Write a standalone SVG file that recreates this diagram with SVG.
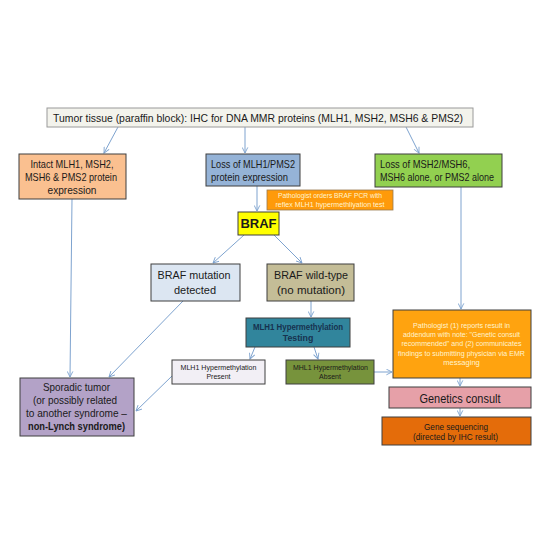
<svg xmlns="http://www.w3.org/2000/svg" width="550" height="550" viewBox="0 0 550 550">
<defs>
<marker id="ah" viewBox="0 0 10 10" refX="9" refY="5" markerWidth="7" markerHeight="7" orient="auto" markerUnits="userSpaceOnUse">
<path d="M1,1 L9,5 L1,9" fill="none" stroke="#7ea3cf" stroke-width="1.3"/>
</marker>
</defs>
<style>
text{font-family:"Liberation Sans",Arial,sans-serif;fill:#1a1a1a}
tspan{}
.b{stroke:#3f3f3f;stroke-width:1}
.c{text-anchor:middle}
.w{fill:#fff4d0}
#connectors line{stroke:#7ea3cf;stroke-width:1;marker-end:url(#ah)}
</style>
<rect width="550" height="550" fill="#ffffff"/>
<g id="connectors">
<line x1="118" y1="127" x2="104" y2="153"/>
<line x1="245" y1="127" x2="245" y2="153"/>
<line x1="406" y1="127" x2="419" y2="153"/>
<line x1="72" y1="199" x2="70" y2="377"/>
<line x1="257" y1="186" x2="257" y2="211"/>
<line x1="244" y1="235" x2="213" y2="263"/>
<line x1="274" y1="235" x2="302" y2="263"/>
<line x1="461" y1="187" x2="461" y2="309"/>
<line x1="183" y1="301" x2="109" y2="377"/>
<line x1="311" y1="301" x2="311" y2="317"/>
<line x1="255" y1="347" x2="250" y2="359"/>
<line x1="314" y1="347" x2="318" y2="359"/>
<line x1="172" y1="376" x2="136" y2="411"/>
<line x1="374" y1="372" x2="392" y2="372"/>
<line x1="460" y1="378" x2="460" y2="386"/>
<line x1="460" y1="408" x2="460" y2="416"/>
</g>
<g id="top">
<rect x="47" y="108" width="426" height="19" fill="#f3f3ec" stroke="#9a9a9a"/>
<text x="258" y="121.5" class="c" font-size="11" textLength="410" lengthAdjust="spacingAndGlyphs">Tumor tissue (paraffin block): IHC for DNA MMR proteins (MLH1, MSH2, MSH6 &amp; PMS2)</text>
</g>
<g id="intact">
<rect x="19" y="154" width="107" height="45" fill="#fac090" class="b"/>
<text class="c" font-size="10.5" lengthAdjust="spacingAndGlyphs"><tspan x="72" y="168" textLength="83" lengthAdjust="spacingAndGlyphs">Intact MLH1, MSH2,</tspan><tspan x="71" y="181" textLength="92" lengthAdjust="spacingAndGlyphs">MSH6 &amp; PMS2 protein</tspan><tspan x="72" y="194" textLength="49" lengthAdjust="spacingAndGlyphs">expression</tspan></text>
</g>
<g id="loss-mlh1">
<rect x="206" y="154" width="94" height="32" fill="#95b3d7" class="b"/>
<text font-size="10.5"><tspan x="211" y="168" textLength="84" lengthAdjust="spacingAndGlyphs">Loss of MLH1/PMS2</tspan><tspan x="211" y="181" textLength="77" lengthAdjust="spacingAndGlyphs">protein expression</tspan></text>
</g>
<g id="loss-msh2">
<rect x="375" y="154" width="127" height="33" fill="#92d050" class="b"/>
<text font-size="10.5"><tspan x="380" y="168" textLength="90" lengthAdjust="spacingAndGlyphs">Loss of MSH2/MSH6,</tspan><tspan x="380" y="181" textLength="114" lengthAdjust="spacingAndGlyphs">MSH6 alone, or PMS2 alone</tspan></text>
</g>
<g id="braf-order">
<rect x="267" y="190" width="126" height="20" fill="#ff9a0a" stroke="#9a7a50" stroke-width="0.8"/>
<text class="c w" font-size="7.5"><tspan x="330" y="197.8" textLength="104" lengthAdjust="spacingAndGlyphs">Pathologist orders BRAF PCR with</tspan><tspan x="330" y="206.8" textLength="109" lengthAdjust="spacingAndGlyphs">reflex MLH1 hypermethliyation test</tspan></text>
</g>
<g id="braf">
<rect x="238" y="212" width="41" height="23" fill="#ffff00" class="b"/>
<text x="258.5" y="228" class="c" font-size="13" font-weight="bold">BRAF</text>
</g>
<g id="braf-mut">
<rect x="151" y="264" width="89" height="37" fill="#dce6f2" class="b"/>
<text class="c" font-size="11"><tspan x="194" y="279" textLength="73" lengthAdjust="spacingAndGlyphs">BRAF mutation</tspan><tspan x="195" y="294">detected</tspan></text>
</g>
<g id="braf-wt">
<rect x="267" y="264" width="87" height="37" fill="#c4bd97" class="b"/>
<text class="c" font-size="11"><tspan x="311" y="279" textLength="74" lengthAdjust="spacingAndGlyphs">BRAF wild-type</tspan><tspan x="311" y="294" textLength="68" lengthAdjust="spacingAndGlyphs">(no mutation)</tspan></text>
</g>
<g id="mlh1-test">
<rect x="246" y="318" width="104" height="29" fill="#31859c" class="b"/>
<text class="c" font-size="8.8" font-weight="bold" style="fill:#17324f"><tspan x="298" y="330" textLength="90" lengthAdjust="spacingAndGlyphs">MLH1 Hypermethylation</tspan><tspan x="298" y="341">Testing</tspan></text>
</g>
<g id="mlh1-present">
<rect x="172" y="360" width="93" height="24" fill="#f2eff5" class="b"/>
<text class="c" font-size="7"><tspan x="218.5" y="369.7" textLength="76" lengthAdjust="spacingAndGlyphs">MLH1 Hypermethylation</tspan><tspan x="218.5" y="378.7">Present</tspan></text>
</g>
<g id="mlh1-absent">
<rect x="286" y="360" width="88" height="24" fill="#77933c" class="b"/>
<text class="c" font-size="7"><tspan x="330.5" y="369.7" textLength="75" lengthAdjust="spacingAndGlyphs">MHL1 Hypermethylation</tspan><tspan x="330" y="378.7">Absent</tspan></text>
</g>
<g id="pathologist-report">
<rect x="393" y="310" width="138" height="68" fill="#ffa30f" class="b" stroke-width="0.8"/>
<text class="c w" font-size="7.6"><tspan x="461.5" y="327.8" textLength="97" lengthAdjust="spacingAndGlyphs">Pathologist (1) reports result in</tspan><tspan x="461.5" y="337.1" textLength="117" lengthAdjust="spacingAndGlyphs">addendum with note: "Genetic consult</tspan><tspan x="461.5" y="346.4" textLength="120" lengthAdjust="spacingAndGlyphs">recommended"  and (2) communicates</tspan><tspan x="461.5" y="355.7" textLength="127" lengthAdjust="spacingAndGlyphs">findings to submitting physician via EMR</tspan><tspan x="461.5" y="365">messaging</tspan></text>
</g>
<g id="genetics">
<rect x="389" y="387" width="142" height="21" fill="#e6a0a8" class="b"/>
<text x="460" y="403" class="c" font-size="13.5" textLength="81" lengthAdjust="spacingAndGlyphs">Genetics consult</text>
</g>
<g id="gene-seq">
<rect x="382" y="417" width="149" height="28" fill="#e46c0a" class="b"/>
<text class="c" font-size="9.5"><tspan x="456" y="429.5" textLength="64" lengthAdjust="spacingAndGlyphs">Gene sequencing</tspan><tspan x="455.5" y="440" textLength="85" lengthAdjust="spacingAndGlyphs">(directed by IHC result)</tspan></text>
</g>
<g id="sporadic">
<rect x="20" y="378" width="114" height="58" fill="#b3a2c7" class="b"/>
<text class="c" font-size="11"><tspan x="76.5" y="391" textLength="67" lengthAdjust="spacingAndGlyphs">Sporadic tumor</tspan><tspan x="75" y="404" textLength="84" lengthAdjust="spacingAndGlyphs">(or possibly related</tspan><tspan x="76.5" y="417" textLength="101" lengthAdjust="spacingAndGlyphs">to another syndrome –</tspan><tspan x="76.5" y="430" font-weight="bold" textLength="97" lengthAdjust="spacingAndGlyphs">non-Lynch syndrome)</tspan></text>
</g>
</svg>
